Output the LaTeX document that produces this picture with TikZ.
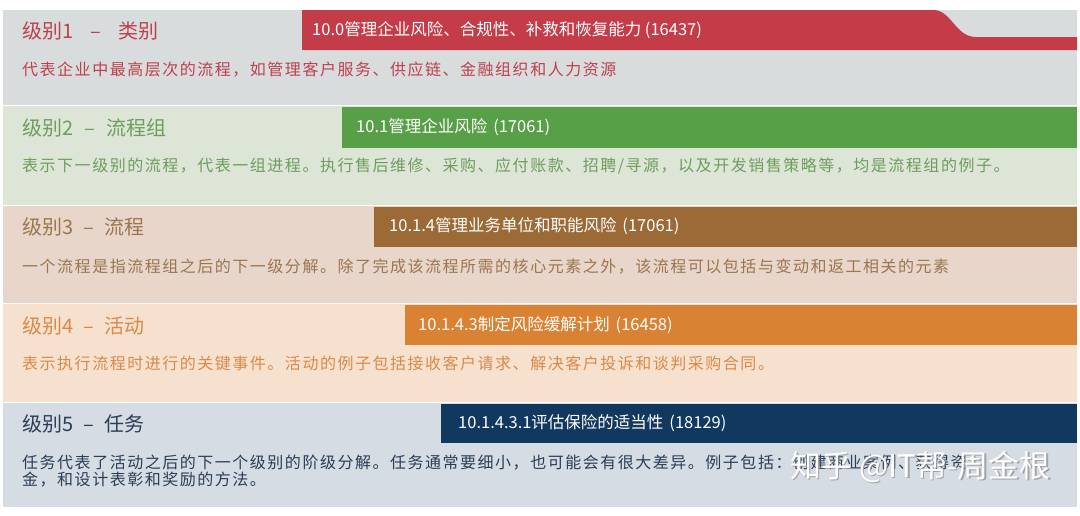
\documentclass[tikz,border=0pt]{standalone}
\usepackage{fontspec}
\setmainfont{Noto Sans CJK SC}
\definecolor{bgA}{HTML}{D9DCDD}
\definecolor{bgB}{HTML}{DDE5D6}
\definecolor{bgC}{HTML}{E7D6C9}
\definecolor{bgD}{HTML}{F6E1CF}
\definecolor{bgE}{HTML}{D5DCE3}
\definecolor{barA}{HTML}{C43C48}
\definecolor{barB}{HTML}{58A048}
\definecolor{barC}{HTML}{9B6A36}
\definecolor{barD}{HTML}{DA8233}
\definecolor{barE}{HTML}{11385E}
\definecolor{txA}{HTML}{BE404D}
\definecolor{txB}{HTML}{6E9D5E}
\definecolor{txC}{HTML}{9B7650}
\definecolor{txD}{HTML}{D98A48}
\definecolor{txE}{HTML}{2B3D57}
\begin{document}
\begin{tikzpicture}[x=1pt,y=-1pt,
  leveltitle/.style={anchor=west, inner sep=0pt, font=\fontsize{20pt}{24pt}\selectfont},
  leveldesc/.style={anchor=west, inner sep=0pt, align=left, font=\fontsize{16pt}{17.5pt}\selectfont\addfontfeature{LetterSpace=9.5}},
  barlabel/.style={anchor=west, inner sep=0pt, text=white, font=\fontsize{16.5pt}{19pt}\selectfont},
  watermark/.style={anchor=west, inner sep=0pt, font=\fontsize{31pt}{34pt}\selectfont}]
\useasboundingbox (0,0) rectangle (1080,515);
\fill[white] (0,0) rectangle (1080,515);
% bands
\fill[bgA] (3,10) rectangle (1077,105);
\fill[bgB] (3,106) rectangle (1077,205);
\fill[bgC] (3,206) rectangle (1077,303);
\fill[bgD] (3,304) rectangle (1077,402);
\fill[bgE] (3,403) rectangle (1077,507);
% bars
\fill[barA] (302,10) -- (935,10) .. controls (952,12) and (956,37) .. (976,37) -- (1077,37) -- (1077,50) -- (302,50) -- cycle;
\fill[barB] (342,107) rectangle (1077,148);
\fill[barC] (374,207) rectangle (1077,247);
\fill[barD] (405,305) rectangle (1077,345);
\fill[barE] (441,404) rectangle (1077,443);
% level 1
\node[leveltitle, text=txA] (t1) at (22,31) {级别1\hspace{17pt}–\hspace{17pt}类别};
\node[barlabel] (b1) at (312,30) {10.0管理企业风险、合规性、补救和恢复能力 (16437)};
\node[leveldesc, text=txA] (d1) at (22,70) {代表企业中最高层次的流程，如管理客户服务、供应链、金融组织和人力资源};
% level 2
\node[leveltitle, text=txB] (t2) at (22,128) {级别2\hspace{11pt}–\hspace{11pt}流程组};
\node[barlabel] (b2) at (356,127) {10.1管理企业风险\hspace{6pt}(17061)};
\node[leveldesc, text=txB] (d2) at (22,166) {表示下一级别的流程，代表一组进程。执行售后维修、采购、应付账款、招聘/寻源，以及开发销售策略等，均是流程组的例子。};
% level 3
\node[leveltitle, text=txC] (t3) at (22,227) {级别3\hspace{10pt}–\hspace{10pt}流程};
\node[barlabel] (b3) at (389,226) {10.1.4管理业务单位和职能风险\hspace{6pt}(17061)};
\node[leveldesc, text=txC] (d3) at (22,267) {一个流程是指流程组之后的下一级分解。除了完成该流程所需的核心元素之外，该流程可以包括与变动和返工相关的元素};
% level 4
\node[leveltitle, text=txD] (t4) at (22,326) {级别4\hspace{10pt}–\hspace{10pt}活动};
\node[barlabel] (b4) at (418,325) {10.1.4.3制定风险缓解计划\hspace{6pt}(16458)};
\node[leveldesc, text=txD] (d4) at (22,363) {表示执行流程时进行的关键事件。活动的例子包括接收客户请求、解决客户投诉和谈判采购合同。};
% level 5
\node[leveltitle, text=txE] (t5) at (22,424) {级别5\hspace{10pt}–\hspace{10pt}任务};
\node[barlabel] (b5) at (458,423) {10.1.4.3.1评估保险的适当性\hspace{6pt}(18129)};
\node[leveldesc, text=txE] (d5) at (22,471) {任务代表了活动之后的下一个级别的阶级分解。任务通常要细小，也可能会有很大差异。例子包括：创建商业案例、获得资\\金，和设计表彰和奖励的方法。};
% watermark
\node[watermark, text=black!45, opacity=0.7] (wms) at (791.5,468.5) {知乎 @IT帮-周金根};
\node[watermark, text=white] (wm) at (790,467) {知乎 @IT帮-周金根};
\end{tikzpicture}
\end{document}
